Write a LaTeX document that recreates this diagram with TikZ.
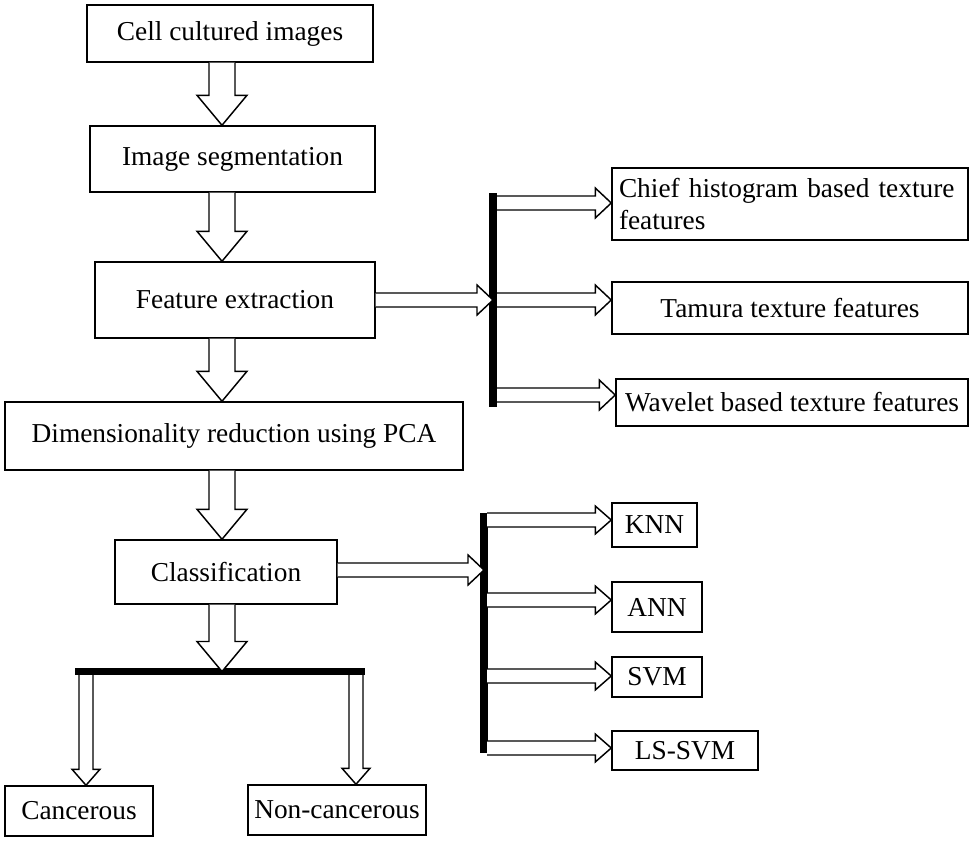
\documentclass[tikz,border=0pt]{standalone}
\usepackage{fontspec}
\setmainfont{Liberation Serif}
\usetikzlibrary{calc}

\tikzset{every picture/.style={line width=0.75pt}}
\tikzset{box/.style={draw, line width=1.1pt, inner sep=0pt, font=\fontsize{20.5}{24}\selectfont},
  bar/.style={line width=5.5pt},
  blk/.style={draw, line width=1.1pt, fill=white}}

% right pointing block arrow: start, tip, shaft half, head half, head length
\newcommand{\blkright}[5]{\draw[blk] ($(#1)+(0,-#3)$) -- ($(#2)+(-#5,-#3)$) -- ($(#2)+(-#5,-#4)$) -- (#2) -- ($(#2)+(-#5,#4)$) -- ($(#2)+(-#5,#3)$) -- ($(#1)+(0,#3)$) ;}
% down pointing block arrow
\newcommand{\blkdown}[5]{\draw[blk] ($(#1)+(-#3,0)$) -- ($(#2)+(-#3,-#5)$) -- ($(#2)+(-#4,-#5)$) -- (#2) -- ($(#2)+(#4,-#5)$) -- ($(#2)+(#3,-#5)$) -- ($(#1)+(#3,0)$) ;}

\begin{document}
\begin{tikzpicture}[x=0.75pt,y=0.75pt,yscale=-1,xscale=1]
\useasboundingbox (0,0) rectangle (976,843);

% main column
\node [box, minimum width=0.75*286, minimum height=0.75*57] (cell) at (230,33.5) {Cell cultured images};
\node [box, minimum width=0.75*285, minimum height=0.75*66] (seg) at (232.5,159) {Image segmentation};
\node [box, minimum width=0.75*280, minimum height=0.75*76] (feat) at (235,300) {Feature extraction};
\node [box, minimum width=0.75*458, minimum height=0.75*68] (dim) at (234,436) {Dimensionality reduction using PCA};
\node [box, minimum width=0.75*222, minimum height=0.75*64] (cls) at (226,572) {Classification};
\node [box, minimum width=0.75*148, minimum height=0.75*50] (canc) at (79,811) {Cancerous};
\node [box, minimum width=0.75*178, minimum height=0.75*50] (ncanc) at (337,810) {Non-cancerous};

% feature boxes
\node [box, minimum width=0.75*356, minimum height=0.75*72, align=left, text width=0.75*342] (chief) at (790,204) {Chief histogram based texture\\features};
\node [box, minimum width=0.75*356, minimum height=0.75*52] (tam) at (790,308) {Tamura texture features};
\node [box, minimum width=0.75*352, minimum height=0.75*47] (wav) at (792,402.5) {Wavelet based texture features};

% classifier boxes
\node [box, minimum width=0.75*85, minimum height=0.75*44] (knn) at (654.5,525) {KNN};
\node [box, minimum width=0.75*90, minimum height=0.75*50] (ann) at (657,607) {ANN};
\node [box, minimum width=0.75*90, minimum height=0.75*40] (svm) at (657,677) {SVM};
\node [box, minimum width=0.75*146, minimum height=0.75*39] (lssvm) at (685,750.5) {LS-SVM};

% bars
\coordinate (fb1) at (493,193); \coordinate (fb2) at (493,407);
\coordinate (cb1) at (484,513); \coordinate (cb2) at (484,753);
\coordinate (ob1) at (75,671.5); \coordinate (ob2) at (365,671.5);
\draw [bar] (fb1) -- (fb2);
\draw [bar] (cb1) -- (cb2);
\draw [bar] (ob1) -- (ob2);

% down arrows of the main column
\coordinate (ax) at (222,0);
\blkdown{cell.south -| ax}{seg.north -| ax}{13}{25}{30}
\blkdown{seg.south -| ax}{feat.north -| ax}{13}{25}{30}
\blkdown{feat.south -| ax}{dim.north -| ax}{13}{25}{30}
\blkdown{dim.south -| ax}{cls.north -| ax}{13}{25}{30}
\blkdown{cls.south -| ax}{ob1 -| ax}{13}{25}{30}

% outcome arrows
\coordinate (ol) at (86,675); \coordinate (or) at (356,675);
\blkdown{ol}{canc.north -| ol}{7}{14}{16}
\blkdown{or}{ncanc.north -| or}{7}{14}{16}

% feature arrows
\coordinate (fy) at (0,300);
\blkright{feat.east |- fy}{fb1 |- fy}{7}{15}{16}
\coordinate (f1) at (497,203); \coordinate (f2) at (497,300); \coordinate (f3) at (497,395);
\blkright{f1}{chief.west |- f1}{7}{15}{16}
\blkright{f2}{tam.west |- f2}{7}{15}{16}
\blkright{f3}{wav.west |- f3}{7}{15}{16}

% classifier arrows
\coordinate (cy) at (0,570);
\blkright{cls.east |- cy}{cb1 |- cy}{7}{15}{16}
\coordinate (c1) at (487,520); \coordinate (c2) at (487,600);
\coordinate (c3) at (487,676); \coordinate (c4) at (487,748);
\blkright{c1}{knn.west |- c1}{7}{14}{16}
\blkright{c2}{ann.west |- c2}{7}{14}{16}
\blkright{c3}{svm.west |- c3}{7}{14}{16}
\blkright{c4}{lssvm.west |- c4}{7}{14}{16}

\end{tikzpicture}
\end{document}
